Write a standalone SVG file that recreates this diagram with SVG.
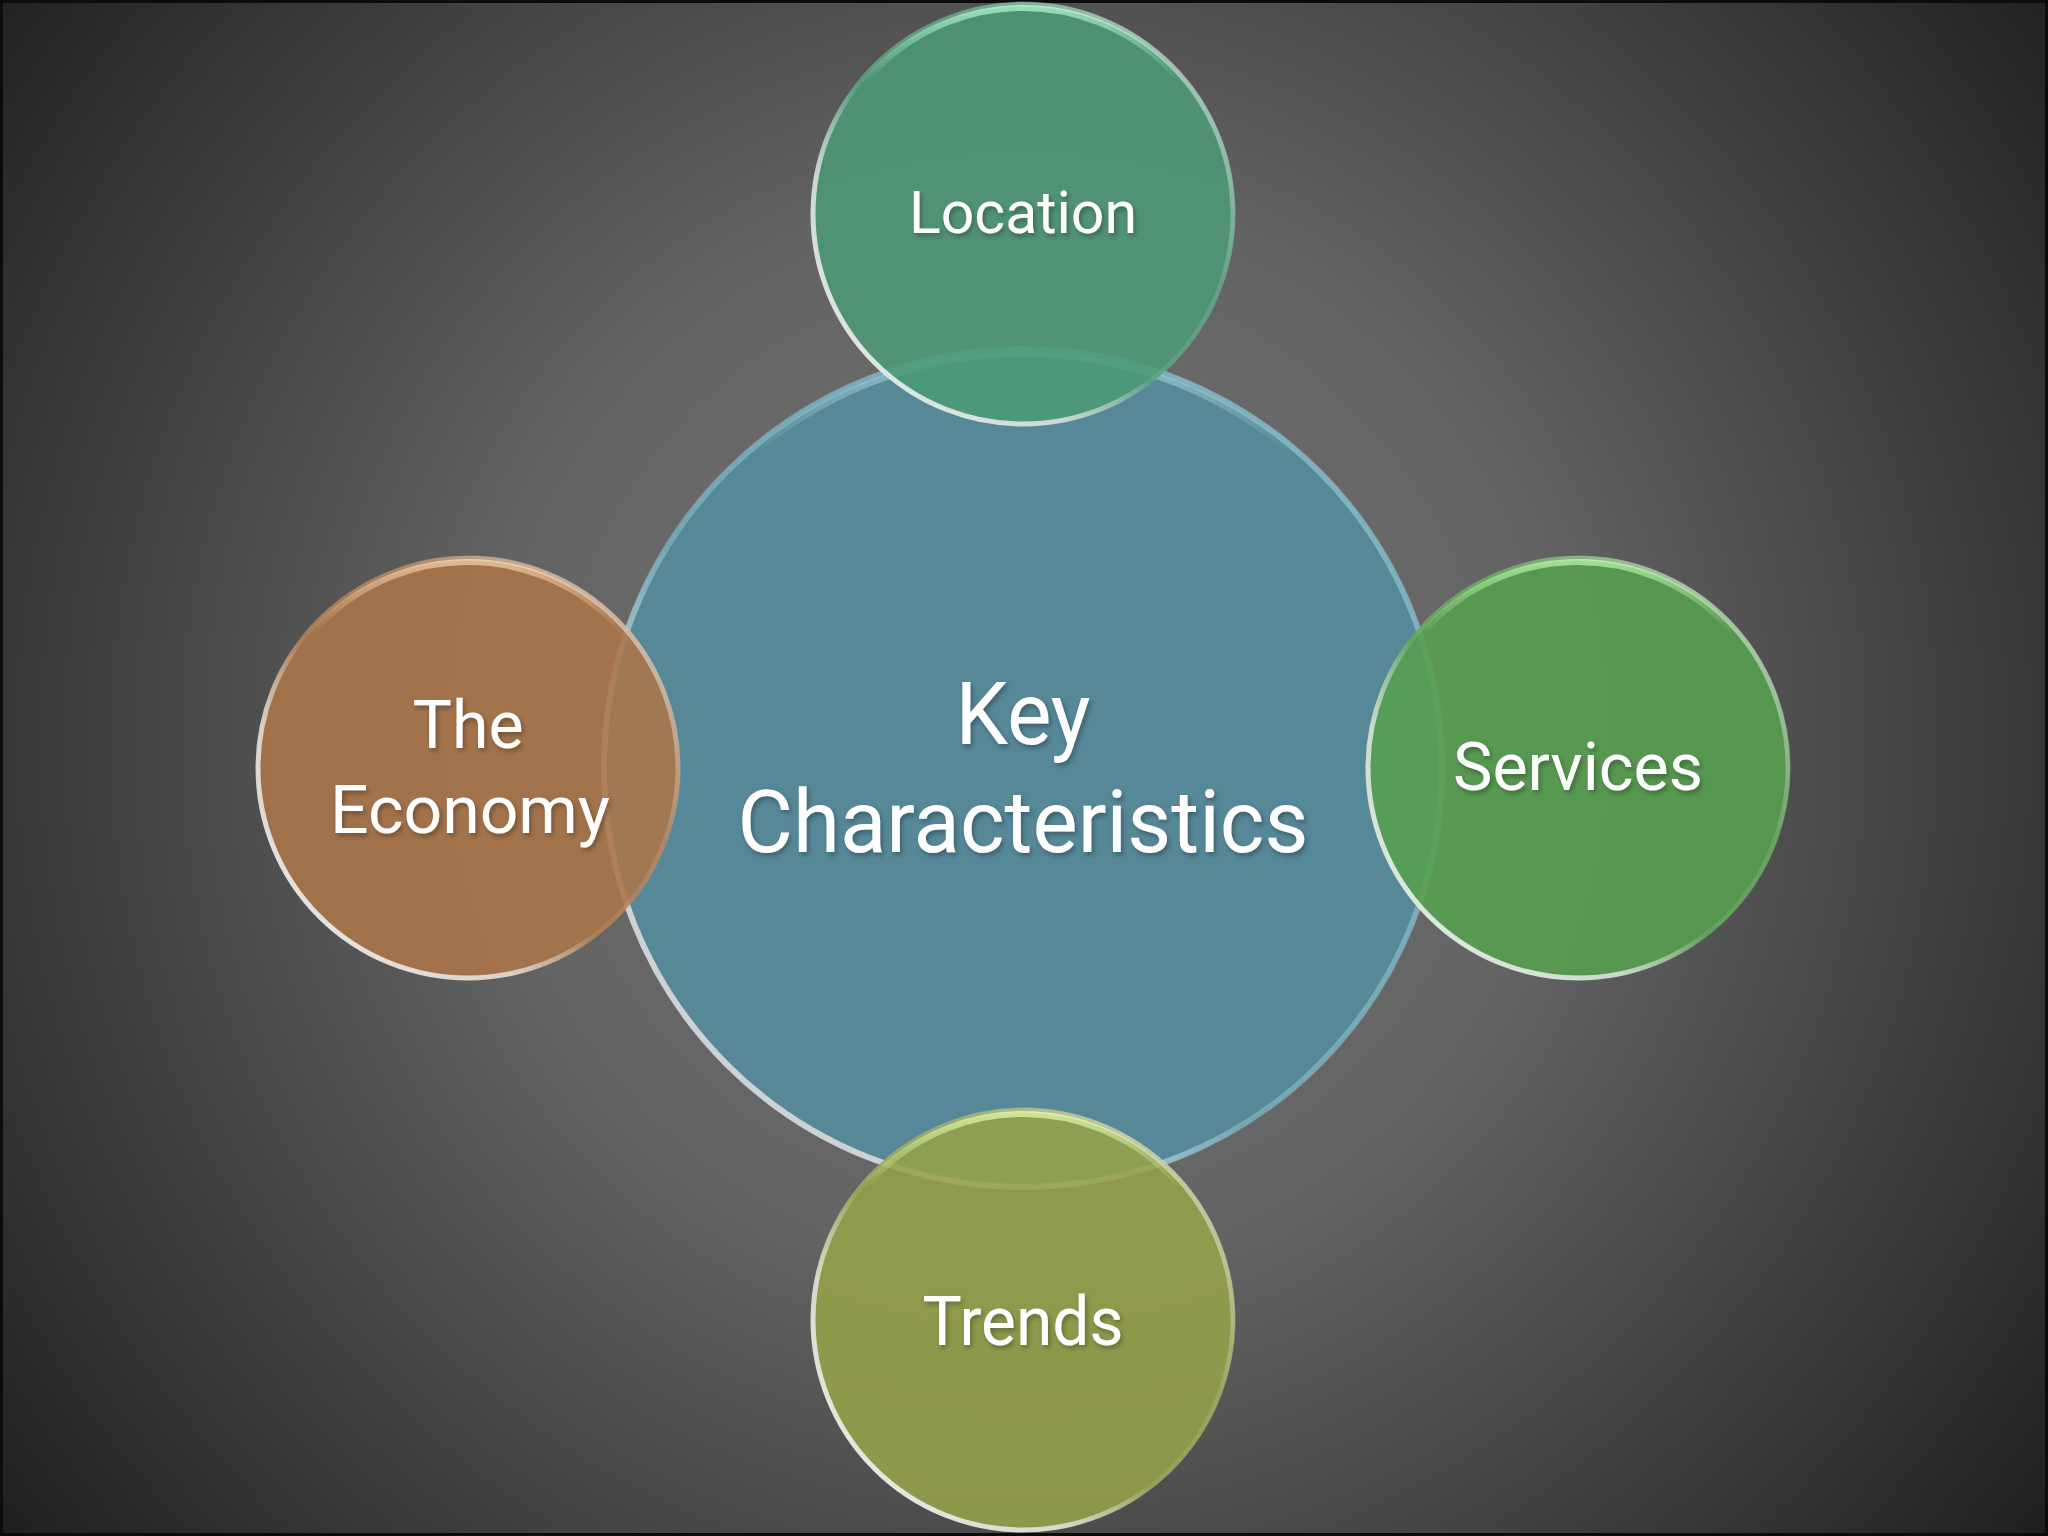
<svg xmlns="http://www.w3.org/2000/svg" width="2048" height="1536" viewBox="0 0 2048 1536">
  <defs>
    <radialGradient id="bg" gradientUnits="userSpaceOnUse" cx="1024" cy="740" r="1350">
      <stop offset="0" stop-color="#767576"/>
      <stop offset="0.4" stop-color="#646364"/>
      <stop offset="0.72" stop-color="#3c3c3c"/>
      <stop offset="1" stop-color="#1a1a1a"/>
    </radialGradient>
    <filter id="ts" x="-10%" y="-20%" width="120%" height="150%">
      <feDropShadow dx="2" dy="3" stdDeviation="2.5" flood-color="#000" flood-opacity="0.3"/>
    </filter>
    <linearGradient id="rim" x1="0" y1="1" x2="1" y2="0">
      <stop offset="0" stop-color="#ffffff" stop-opacity="0.9"/>
      <stop offset="0.3" stop-color="#e8eaea" stop-opacity="0.8"/>
      <stop offset="0.45" stop-color="#ffffff" stop-opacity="0.08"/>
      <stop offset="0.65" stop-color="#ffffff" stop-opacity="0.12"/>
      <stop offset="0.85" stop-color="#ffffff" stop-opacity="0.45"/>
      <stop offset="1" stop-color="#ffffff" stop-opacity="0.15"/>
    </linearGradient>
    <linearGradient id="rimC" x1="0" y1="1" x2="1" y2="0">
      <stop offset="0" stop-color="#d0d4d6" stop-opacity="1"/>
      <stop offset="0.28" stop-color="#d0d4d6" stop-opacity="0.95"/>
      <stop offset="0.42" stop-color="#9fd4e0" stop-opacity="0.4"/>
      <stop offset="1" stop-color="#9fd4e0" stop-opacity="0.6"/>
    </linearGradient>
    <linearGradient id="hiG" x1="0" y1="0" x2="0" y2="1">
      <stop offset="0" stop-color="#a8f0c8" stop-opacity="0.8"/>
      <stop offset="0.18" stop-color="#a8f0c8" stop-opacity="0"/>
    </linearGradient>
    <linearGradient id="hiO" x1="0" y1="0" x2="0" y2="1">
      <stop offset="0" stop-color="#f0c8a0" stop-opacity="0.8"/>
      <stop offset="0.18" stop-color="#f0c8a0" stop-opacity="0"/>
    </linearGradient>
    <linearGradient id="hiS" x1="0" y1="0" x2="0" y2="1">
      <stop offset="0" stop-color="#b0f0a0" stop-opacity="0.8"/>
      <stop offset="0.18" stop-color="#b0f0a0" stop-opacity="0"/>
    </linearGradient>
    <linearGradient id="hiT" x1="0" y1="0" x2="0" y2="1">
      <stop offset="0" stop-color="#d8f0a0" stop-opacity="0.85"/>
      <stop offset="0.18" stop-color="#d8f0a0" stop-opacity="0"/>
    </linearGradient>
    <linearGradient id="hiC" x1="0" y1="0" x2="0" y2="1">
      <stop offset="0" stop-color="#b8e4ec" stop-opacity="0.6"/>
      <stop offset="0.12" stop-color="#b8e4ec" stop-opacity="0"/>
    </linearGradient>
  </defs>
  <style>
    .lbl { font-family: Roboto, "Open Sans", "Liberation Sans", sans-serif; fill: #ffffff; text-anchor: middle; filter: url(#ts); }
    .sat { fill-opacity: 0.88; }
    .rim { fill: none; stroke: url(#rim); stroke-width: 5; }
    .hi { fill: none; stroke-width: 6; }
  </style>

  <rect x="0" y="0" width="2048" height="1536" fill="url(#bg)"/>
  <rect x="1.5" y="1.5" width="2045" height="1533" fill="none" stroke="#0c0c0c" stroke-width="3"/>

  <g id="connectors"></g>

  <g id="node-center" transform="translate(1023,768)">
    <circle r="421" fill="#568898"/>
    <circle r="414" class="hi" stroke="url(#hiC)"/>
    <circle r="419" fill="none" stroke="url(#rimC)" stroke-width="6"/>
    <text class="lbl" x="0" y="-24" font-size="87" textLength="135" lengthAdjust="spacingAndGlyphs">Key</text>
    <text class="lbl" x="0" y="84" font-size="87" textLength="571" lengthAdjust="spacingAndGlyphs">Characteristics</text>
  </g>

  <g id="node-location" transform="translate(1023,214)">
    <circle class="sat" r="212" fill="#4c9a76"/>
    <circle r="206" class="hi" stroke="url(#hiG)"/>
    <circle r="210" class="rim"/>
    <text class="lbl" x="0" y="19" font-size="60" textLength="228" lengthAdjust="spacingAndGlyphs">Location</text>
  </g>

  <g id="node-economy" transform="translate(468,768)">
    <circle class="sat" r="212" fill="#ac7548"/>
    <circle r="206" class="hi" stroke="url(#hiO)"/>
    <circle r="210" class="rim"/>
    <text class="lbl" x="0" y="-20" font-size="67" textLength="111" lengthAdjust="spacingAndGlyphs">The</text>
    <text class="lbl" x="2" y="65" font-size="67" textLength="280" lengthAdjust="spacingAndGlyphs">Economy</text>
  </g>

  <g id="node-services" transform="translate(1578,768)">
    <circle class="sat" r="212" fill="#56a04e"/>
    <circle r="206" class="hi" stroke="url(#hiS)"/>
    <circle r="210" class="rim"/>
    <text class="lbl" x="0" y="22" font-size="67" textLength="250" lengthAdjust="spacingAndGlyphs">Services</text>
  </g>

  <g id="node-trends" transform="translate(1023,1320)">
    <circle class="sat" r="212" fill="#96a24a"/>
    <circle r="206" class="hi" stroke="url(#hiT)"/>
    <circle r="210" class="rim"/>
    <text class="lbl" x="0" y="25" font-size="68" textLength="201" lengthAdjust="spacingAndGlyphs">Trends</text>
  </g>
</svg>
